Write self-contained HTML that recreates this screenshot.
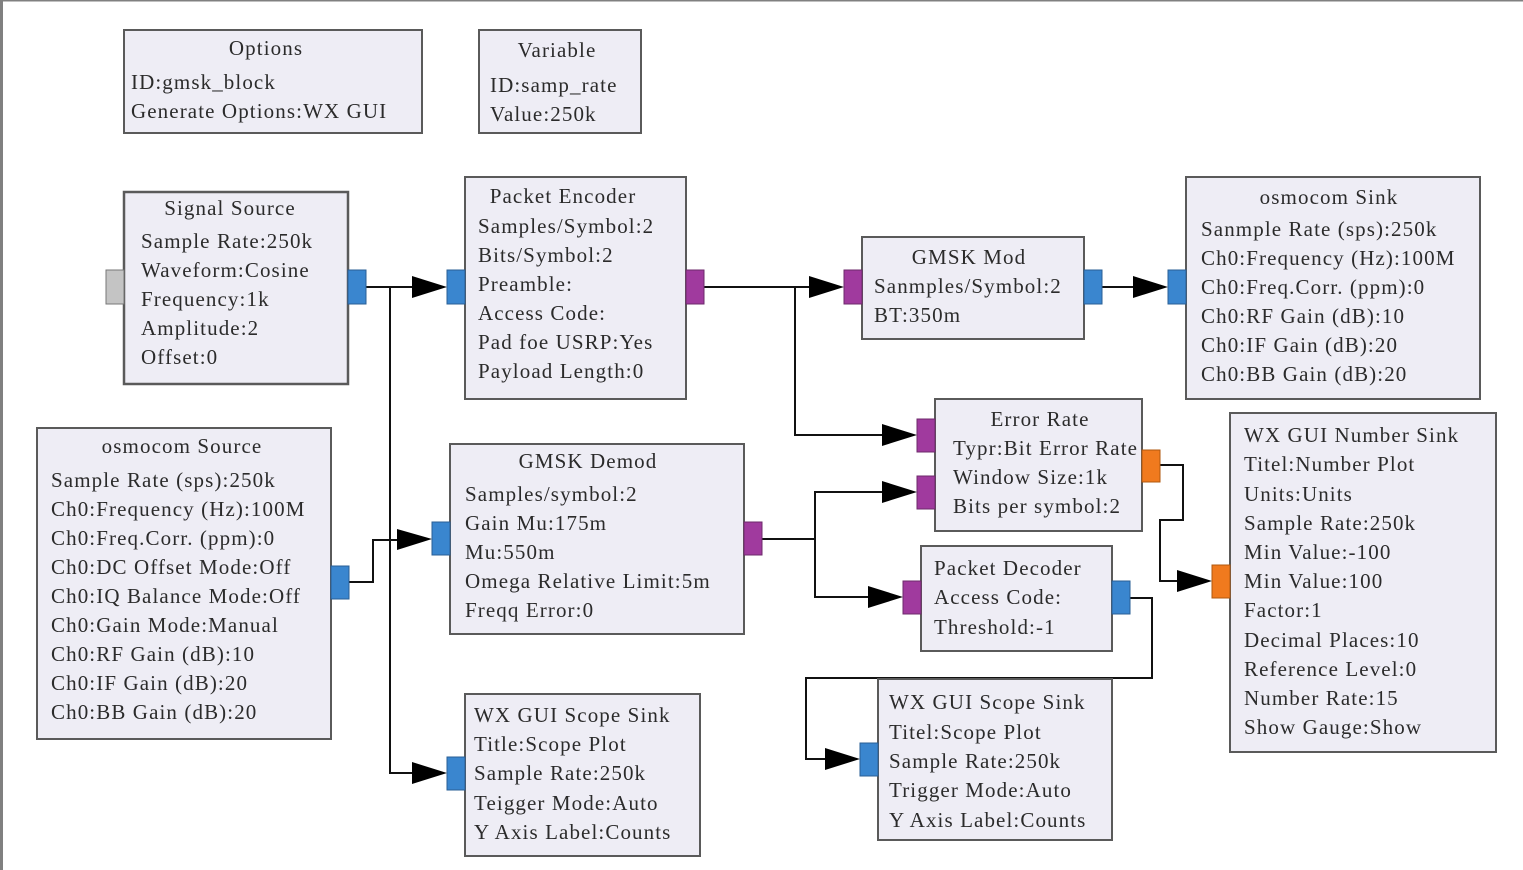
<!DOCTYPE html>
<html><head><meta charset="utf-8"><style>
html,body{margin:0;padding:0;background:#fff;}
svg{display:block;}
text{font-family:"Liberation Serif","Times New Roman",serif;font-size:21px;fill:#2b2b2b;letter-spacing:1.1px;}
.b{fill:#eeedf5;stroke:#5a5a5a;stroke-width:2;}
.w{fill:none;stroke:#111;stroke-width:2;}
.bl{fill:#3a86cf;stroke:#2a5f95;stroke-width:1;}
.pu{fill:#a03a9e;stroke:#6d2a6b;stroke-width:1;}
.or{fill:#f07a1e;stroke:#b0580f;stroke-width:1;}
.gr{fill:#c4c4c4;stroke:#777;stroke-width:1;}
</style></head><body>
<svg width="1523" height="870" viewBox="0 0 1523 870" xmlns="http://www.w3.org/2000/svg">
<rect x="0" y="0" width="1523" height="870" fill="#fff"/>
<rect x="0" y="0" width="3" height="870" fill="#808080"/>
<rect x="0" y="0" width="1523" height="1.5" fill="#808080"/>

<path class="w" d="M366 287 H420 M390 287 V773 H420"/>
<path class="w" d="M704 287 H815 M795 287 V435 H888"/>
<path class="w" d="M1102 287 H1140"/>
<path class="w" d="M349 582 H373 V540 H405"/>
<path class="w" d="M762 539 H815 V492 H888 M815 539 V597 H875"/>
<path class="w" d="M1160 465 H1183 V520 H1160 V581 H1185"/>
<path class="w" d="M1130 598 H1152 V678 H806 V759 H833"/>
<g fill="#000">
<polygon points="412,276 447,287 412,298"/>
<polygon points="412,762 447,773 412,784"/>
<polygon points="809,276 844,287 809,298"/>
<polygon points="1133,276 1168,287 1133,298"/>
<polygon points="397,529 432,539 397,550"/>
<polygon points="882,424 917,435 882,446"/>
<polygon points="882,481 917,492 882,503"/>
<polygon points="868,586 903,597 868,608"/>
<polygon points="1177,570 1212,581 1177,592"/>
<polygon points="825,748 860,759 825,770"/>
</g>

<rect class="b" x="124" y="30" width="298" height="103"/>
<text x="266" y="55" text-anchor="middle">Options</text>
<text x="131" y="89">ID:gmsk_block</text>
<text x="131" y="118">Generate Options:WX GUI</text>

<rect class="b" x="479" y="30" width="162" height="103"/>
<text x="557" y="57" text-anchor="middle">Variable</text>
<text x="490" y="92">ID:samp_rate</text>
<text x="490" y="121">Value:250k</text>

<rect class="b" x="124" y="192" width="224" height="192" style="stroke-width:2.5"/>
<text x="230" y="215" text-anchor="middle">Signal Source</text>
<text x="141" y="248">Sample Rate:250k</text>
<text x="141" y="277">Waveform:Cosine</text>
<text x="141" y="306">Frequency:1k</text>
<text x="141" y="335">Amplitude:2</text>
<text x="141" y="364">Offset:0</text>

<rect class="b" x="465" y="177" width="221" height="222"/>
<text x="563" y="203" text-anchor="middle">Packet Encoder</text>
<text x="478" y="233">Samples/Symbol:2</text>
<text x="478" y="262">Bits/Symbol:2</text>
<text x="478" y="291">Preamble:</text>
<text x="478" y="320">Access Code:</text>
<text x="478" y="349">Pad foe USRP:Yes</text>
<text x="478" y="378">Payload Length:0</text>

<rect class="b" x="862" y="237" width="222" height="102"/>
<text x="969" y="264" text-anchor="middle">GMSK Mod</text>
<text x="874" y="293">Sanmples/Symbol:2</text>
<text x="874" y="322">BT:350m</text>

<rect class="b" x="1186" y="177" width="294" height="222"/>
<text x="1329" y="204" text-anchor="middle">osmocom Sink</text>
<text x="1201" y="236">Sanmple Rate (sps):250k</text>
<text x="1201" y="265">Ch0:Frequency (Hz):100M</text>
<text x="1201" y="294">Ch0:Freq.Corr. (ppm):0</text>
<text x="1201" y="323">Ch0:RF Gain (dB):10</text>
<text x="1201" y="352">Ch0:IF Gain (dB):20</text>
<text x="1201" y="381">Ch0:BB Gain (dB):20</text>

<rect class="b" x="37" y="428" width="294" height="311"/>
<text x="182" y="453" text-anchor="middle">osmocom Source</text>
<text x="51" y="487">Sample Rate (sps):250k</text>
<text x="51" y="516">Ch0:Frequency (Hz):100M</text>
<text x="51" y="545">Ch0:Freq.Corr. (ppm):0</text>
<text x="51" y="574">Ch0:DC Offset Mode:Off</text>
<text x="51" y="603">Ch0:IQ Balance Mode:Off</text>
<text x="51" y="632">Ch0:Gain Mode:Manual</text>
<text x="51" y="661">Ch0:RF Gain (dB):10</text>
<text x="51" y="690">Ch0:IF Gain (dB):20</text>
<text x="51" y="719">Ch0:BB Gain (dB):20</text>

<rect class="b" x="450" y="444" width="294" height="190"/>
<text x="588" y="468" text-anchor="middle">GMSK Demod</text>
<text x="465" y="501">Samples/symbol:2</text>
<text x="465" y="530">Gain Mu:175m</text>
<text x="465" y="559">Mu:550m</text>
<text x="465" y="588">Omega Relative Limit:5m</text>
<text x="465" y="617">Freqq Error:0</text>

<rect class="b" x="935" y="399" width="207" height="132"/>
<text x="1040" y="426" text-anchor="middle">Error Rate</text>
<text x="953" y="455">Typr:Bit Error Rate</text>
<text x="953" y="484">Window Size:1k</text>
<text x="953" y="513">Bits per symbol:2</text>

<rect class="b" x="1230" y="413" width="266" height="339"/>
<text x="1244" y="442">WX GUI Number Sink</text>
<text x="1244" y="471">Titel:Number Plot</text>
<text x="1244" y="501">Units:Units</text>
<text x="1244" y="530">Sample Rate:250k</text>
<text x="1244" y="559">Min Value:-100</text>
<text x="1244" y="588">Min Value:100</text>
<text x="1244" y="617">Factor:1</text>
<text x="1244" y="647">Decimal Places:10</text>
<text x="1244" y="676">Reference Level:0</text>
<text x="1244" y="705">Number Rate:15</text>
<text x="1244" y="734">Show Gauge:Show</text>

<rect class="b" x="921" y="546" width="191" height="105"/>
<text x="934" y="575">Packet Decoder</text>
<text x="934" y="604">Access Code:</text>
<text x="934" y="634">Threshold:-1</text>

<rect class="b" x="465" y="694" width="235" height="162"/>
<text x="474" y="722">WX GUI Scope Sink</text>
<text x="474" y="751">Title:Scope Plot</text>
<text x="474" y="780">Sample Rate:250k</text>
<text x="474" y="810">Teigger Mode:Auto</text>
<text x="474" y="839">Y Axis Label:Counts</text>

<rect class="b" x="878" y="679" width="234" height="161"/>
<text x="889" y="709">WX GUI Scope Sink</text>
<text x="889" y="739">Titel:Scope Plot</text>
<text x="889" y="768">Sample Rate:250k</text>
<text x="889" y="797">Trigger Mode:Auto</text>
<text x="889" y="827">Y Axis Label:Counts</text>

<rect class="gr" x="106" y="270" width="18" height="34"/>
<rect class="bl" x="348" y="270" width="18" height="34"/>
<rect class="bl" x="447" y="270" width="18" height="34"/>
<rect class="pu" x="686" y="270" width="18" height="34"/>
<rect class="pu" x="844" y="270" width="18" height="34"/>
<rect class="bl" x="1084" y="270" width="18" height="34"/>
<rect class="bl" x="1168" y="270" width="18" height="34"/>
<rect class="pu" x="917" y="419" width="18" height="33"/>
<rect class="pu" x="917" y="476" width="18" height="33"/>
<rect class="or" x="1142" y="450" width="18" height="32"/>
<rect class="or" x="1212" y="565" width="18" height="33"/>
<rect class="bl" x="432" y="522" width="18" height="33"/>
<rect class="pu" x="744" y="522" width="18" height="33"/>
<rect class="bl" x="331" y="566" width="18" height="33"/>
<rect class="pu" x="903" y="581" width="18" height="33"/>
<rect class="bl" x="1112" y="581" width="18" height="33"/>
<rect class="bl" x="447" y="757" width="18" height="33"/>
<rect class="bl" x="860" y="743" width="18" height="33"/>
</svg>
</body></html>
